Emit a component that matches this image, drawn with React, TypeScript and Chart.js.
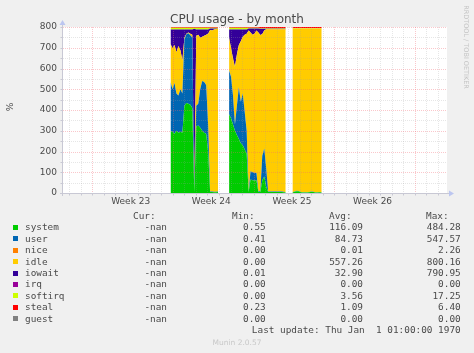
import React, { useEffect, useRef } from "react";
import { Chart, registerables } from "chart.js";

Chart.register(...registerables);

const TITLE = "CPU usage - by month";
const Y_AXIS_LABEL = "%";
const SIDE_TEXT = "RRDTOOL / TOBI OETIKER";
const LAST_UPDATE = "Last update: Thu Jan  1 01:00:00 1970";
const VERSION_TEXT = "Munin 2.0.57";

const seriesNames = ["system", "user", "nice", "idle", "iowait", "irq", "softirq", "steal", "guest"];
const seriesColors = ["#00CC00", "#0066B3", "#FF8000", "#FFCC00", "#330099", "#990099", "#CCFF00", "#FF0000", "#808080"];
const legendHeaders = ["Cur:", "Min:", "Avg:", "Max:"];
const curValues = ["-nan", "-nan", "-nan", "-nan", "-nan", "-nan", "-nan", "-nan", "-nan"];
const minValues = ["0.55", "0.41", "0.00", "0.00", "0.01", "0.00", "0.00", "0.23", "0.00"];
const avgValues = ["116.09", "84.73", "0.01", "557.26", "32.90", "0.00", "3.56", "1.09", "0.00"];
const maxValues = ["484.28", "547.57", "2.26", "800.16", "790.95", "0.00", "17.25", "6.40", "0.00"];

// y axis
const yTickValues = [0, 100, 200, 300, 400, 500, 600, 700, 800];
const yMinorValues = [50, 150, 250, 350, 450, 550, 650, 750];
const Y_MAX = 800;

// x axis (hours since start of the month window)
const X_MAX_HOURS = 800;
const weekLabels = ["Week 23", "Week 24", "Week 25", "Week 26"];
const weekLabelHours = [141, 309, 477, 645];
const weekStartHours = [61, 229, 397, 565, 733];

// data blocks (hours), samples are spread evenly inside each block; null = gap
const blockStartHours = [224, 346, 478];
const blockEndHours = [323, 464, 539];

const system = [
  300, 295, 285, 300, 290, 295, 290, 420, 434, 430, 425, 410, 5, 320, 325, 315, 300, 290, 285, 200, 5, 5, 4, 4, 5,
  null,
  380, 360, 330, 300, 280, 260, 240, 230, 210, 190, 5, 65, 62, 60, 62, 5, 5, 60, 80, 30, 5, 5, 5, 5, 5, 5, 5, 5, 4, 3,
  null,
  3, 6, 9, 8, 4, 3, 3, 3, 4, 6, 5, 3, 3, 4, 3,
];
const user = [
  235, 205, 245, 180, 180, 205, 190, 320, 331, 340, 335, 340, 3, 100, 105, 185, 240, 245, 235, 130, 2, 2, 2, 2, 2,
  null,
  210, 200, 140, 30, 140, 250, 200, 250, 180, 110, 3, 40, 38, 38, 34, 3, 3, 120, 135, 90, 2, 2, 2, 2, 2, 2, 2, 2, 2, 1,
  null,
  1, 1, 2, 2, 1, 1, 1, 1, 1, 1, 1, 1, 1, 1, 1,
];
const nice = [
  0, 0, 0, 0, 0, 0, 0, 0, 0, 0, 0, 0, 0, 0, 0, 0, 0, 0, 0, 0, 0, 0, 0, 0, 0,
  null,
  0, 0, 0, 0, 0, 0, 0, 0, 0, 0, 0, 0, 0, 0, 0, 0, 0, 0, 0, 0, 0, 0, 0, 0, 0, 0, 0, 0, 0, 0,
  null,
  0, 0, 0, 0, 0, 0, 0, 0, 0, 0, 0, 0, 0, 0, 0,
];
const idle = [
  183, 198, 183, 198, 238, 188, 158, 8, 3, 3, 8, 13, 3, 338, 333, 248, 213, 223, 243, 438, 778, 776, 782, 784, 784,
  null,
  158, 138, 178, 278, 248, 203, 291, 273, 373, 468, 775, 668, 663, 670, 687, 765, 753, 586, 568, 669, 782, 782, 782, 782, 782, 782, 782, 782, 783, 785,
  null,
  787, 784, 780, 781, 786, 787, 787, 787, 786, 784, 785, 787, 787, 786, 787,
];
const iowait = [
  70, 90, 75, 110, 80, 100, 150, 40, 20, 15, 20, 25, 780, 30, 25, 40, 35, 30, 25, 20, 8, 10, 5, 3, 2,
  null,
  40, 90, 140, 180, 120, 75, 57, 35, 25, 20, 10, 20, 30, 25, 10, 20, 30, 25, 8, 2, 2, 2, 2, 2, 2, 2, 2, 2, 2, 2,
  null,
  1, 1, 1, 1, 1, 1, 1, 1, 1, 1, 1, 1, 1, 1, 1,
];
const irq = [
  0, 0, 0, 0, 0, 0, 0, 0, 0, 0, 0, 0, 0, 0, 0, 0, 0, 0, 0, 0, 0, 0, 0, 0, 0,
  null,
  0, 0, 0, 0, 0, 0, 0, 0, 0, 0, 0, 0, 0, 0, 0, 0, 0, 0, 0, 0, 0, 0, 0, 0, 0, 0, 0, 0, 0, 0,
  null,
  0, 0, 0, 0, 0, 0, 0, 0, 0, 0, 0, 0, 0, 0, 0,
];
const softirq = [
  8, 8, 8, 8, 8, 8, 8, 8, 8, 8, 8, 8, 5, 8, 8, 8, 8, 8, 8, 8, 3, 3, 3, 3, 3,
  null,
  8, 8, 8, 8, 8, 8, 8, 8, 8, 8, 3, 3, 3, 3, 3, 3, 3, 3, 3, 3, 3, 3, 3, 3, 3, 3, 3, 3, 3, 3,
  null,
  2, 2, 2, 2, 2, 2, 2, 2, 2, 2, 2, 2, 2, 2, 2,
];
const steal = [
  4, 4, 4, 4, 4, 4, 4, 4, 4, 4, 4, 4, 4, 4, 4, 4, 4, 4, 4, 4, 4, 4, 4, 4, 4,
  null,
  4, 4, 4, 4, 4, 4, 4, 4, 4, 4, 4, 4, 4, 4, 4, 4, 6, 6, 6, 6, 6, 6, 6, 6, 6, 6, 6, 6, 6, 6,
  null,
  6, 6, 6, 6, 6, 6, 6, 6, 6, 6, 6, 6, 6, 6, 6,
];
const guest = [
  0, 0, 0, 0, 0, 0, 0, 0, 0, 0, 0, 0, 0, 0, 0, 0, 0, 0, 0, 0, 0, 0, 0, 0, 0,
  null,
  0, 0, 0, 0, 0, 0, 0, 0, 0, 0, 0, 0, 0, 0, 0, 0, 0, 0, 0, 0, 0, 0, 0, 0, 0, 0, 0, 0, 0, 0,
  null,
  0, 0, 0, 0, 0, 0, 0, 0, 0, 0, 0, 0, 0, 0, 0,
];

const seriesData = [system, user, nice, idle, iowait, irq, softirq, steal, guest];

function sampleHours(series: (number | null)[]): number[] {
  const segs: number[][] = [];
  let cur: number[] = [];
  series.forEach((v, i) => {
    if (v === null) {
      segs.push(cur);
      cur = [];
    } else cur.push(i);
  });
  segs.push(cur);
  const hours: number[] = new Array(series.length).fill(0);
  segs.forEach((idxs, b) => {
    const n = idxs.length;
    idxs.forEach((idx, k) => {
      hours[idx] = blockStartHours[b] + ((blockEndHours[b] - blockStartHours[b]) * k) / (n - 1);
    });
  });
  series.forEach((v, i) => {
    if (v === null) hours[i] = (hours[i - 1] + hours[i + 1]) / 2;
  });
  return hours;
}

const FONT_SANS = "'DejaVu Sans', sans-serif";
const FONT_MONO = "'DejaVu Sans Mono', monospace";
const TEXT_COLOR = "#4a4a4a";
const AXIS_COLOR = "#c8c8d4";
const ARROW_COLOR = "#bcc6f0";

const muninPlugin = {
  id: "munin",
  beforeDraw(chart: any) {
    const { ctx, chartArea: a, width, height } = chart;
    ctx.save();
    ctx.fillStyle = "#F0F0F0";
    ctx.fillRect(0, 0, width, height);
    ctx.fillStyle = "#FFFFFF";
    ctx.fillRect(a.left, a.top, a.right - a.left, a.bottom - a.top);
    ctx.restore();
  },
  afterDatasetsDraw(chart: any) {
    const { ctx, chartArea: a } = chart;
    const xs = chart.scales.x;
    const ys = chart.scales.y;
    ctx.save();
    ctx.lineWidth = 1;
    ctx.setLineDash([1, 1]);
    // minor grid
    ctx.strokeStyle = "rgba(160,160,160,0.26)";
    ctx.beginPath();
    for (const v of yMinorValues) {
      const py = Math.round(ys.getPixelForValue(v)) + 0.5;
      ctx.moveTo(a.left, py);
      ctx.lineTo(a.right, py);
    }
    for (let h = weekStartHours[0] - 48; h < X_MAX_HOURS; h += 24) {
      if (weekStartHours.includes(h)) continue;
      const px = Math.round(xs.getPixelForValue(h)) + 0.5;
      ctx.moveTo(px, a.top);
      ctx.lineTo(px, a.bottom);
    }
    ctx.stroke();
    // major grid
    ctx.strokeStyle = "rgba(240,100,110,0.36)";
    ctx.beginPath();
    for (const v of yTickValues) {
      if (v === 0) continue;
      const py = Math.round(ys.getPixelForValue(v)) + 0.5;
      ctx.moveTo(a.left, py);
      ctx.lineTo(a.right, py);
    }
    for (const h of weekStartHours) {
      const px = Math.round(xs.getPixelForValue(h)) + 0.5;
      ctx.moveTo(px, a.top);
      ctx.lineTo(px, a.bottom);
    }
    ctx.stroke();
    ctx.setLineDash([]);
    // axes
    ctx.strokeStyle = AXIS_COLOR;
    ctx.beginPath();
    const by = Math.round(a.bottom) + 0.5;
    const lx = Math.round(a.left) - 0.5;
    ctx.moveTo(a.left - 3, by);
    ctx.lineTo(a.right + 3, by);
    ctx.moveTo(lx, a.bottom + 3);
    ctx.lineTo(lx, a.top - 3);
    for (let h = weekStartHours[0] - 48; h < X_MAX_HOURS; h += 24) {
      const px = Math.round(xs.getPixelForValue(h)) + 0.5;
      ctx.moveTo(px, by);
      ctx.lineTo(px, by + 2);
    }
    for (const v of yTickValues.concat(yMinorValues)) {
      const py = Math.round(ys.getPixelForValue(v)) + 0.5;
      ctx.moveTo(lx, py);
      ctx.lineTo(lx - 2, py);
    }
    ctx.stroke();
    ctx.fillStyle = ARROW_COLOR;
    ctx.beginPath();
    ctx.moveTo(a.right + 2, by - 3);
    ctx.lineTo(a.right + 7, by);
    ctx.lineTo(a.right + 2, by + 3);
    ctx.closePath();
    ctx.fill();
    ctx.beginPath();
    ctx.moveTo(lx - 3, a.top - 2);
    ctx.lineTo(lx, a.top - 7);
    ctx.lineTo(lx + 3, a.top - 2);
    ctx.closePath();
    ctx.fill();
    ctx.restore();
  },
  afterDraw(chart: any) {
    const { ctx } = chart;
    ctx.save();
    // title
    ctx.fillStyle = TEXT_COLOR;
    ctx.font = `12px ${FONT_SANS}`;
    ctx.textAlign = "center";
    ctx.textBaseline = "alphabetic";
    ctx.fillText(TITLE, 237, 22.5);
    // y axis label
    ctx.save();
    ctx.translate(11, 107);
    ctx.rotate(-Math.PI / 2);
    ctx.font = `9px ${FONT_SANS}`;
    ctx.textBaseline = "middle";
    ctx.fillText(Y_AXIS_LABEL, 0, 0);
    ctx.restore();
    // side text
    ctx.save();
    ctx.translate(466, 47);
    ctx.rotate(Math.PI / 2);
    ctx.font = `6.5px ${FONT_SANS}`;
    ctx.fillStyle = "#c4c4c4";
    ctx.textBaseline = "middle";
    ctx.fillText(SIDE_TEXT, 0, 0);
    ctx.restore();
    // legend
    ctx.font = `9.4px ${FONT_MONO}`;
    ctx.textBaseline = "middle";
    ctx.fillStyle = TEXT_COLOR;
    const headerX = [133, 232, 329, 426];
    ctx.textAlign = "left";
    legendHeaders.forEach((h, i) => ctx.fillText(h, headerX[i], 216.7));
    const rowY0 = 228;
    const rowStep = 11.41;
    const colRight = [167, 265.7, 363, 460.7];
    seriesNames.forEach((name, i) => {
      const y = rowY0 + rowStep * i;
      ctx.fillStyle = seriesColors[i];
      ctx.fillRect(13, Math.round(y) - 3, 5, 5);
      ctx.fillStyle = TEXT_COLOR;
      ctx.textAlign = "left";
      ctx.fillText(name, 25, y);
      ctx.textAlign = "right";
      ctx.fillText(curValues[i], colRight[0], y);
      ctx.fillText(minValues[i], colRight[1], y);
      ctx.fillText(avgValues[i], colRight[2], y);
      ctx.fillText(maxValues[i], colRight[3], y);
    });
    ctx.textAlign = "right";
    ctx.fillText(LAST_UPDATE, 460.7, rowY0 + rowStep * 9);
    ctx.textAlign = "center";
    ctx.font = `7.5px ${FONT_SANS}`;
    ctx.fillStyle = "#c8c8c8";
    ctx.fillText(VERSION_TEXT, 237, 343.3);
    ctx.restore();
  },
};

export default function App() {
  const canvasRef = useRef<HTMLCanvasElement | null>(null);

  useEffect(() => {
    document.body.style.margin = "0";
    const canvas = canvasRef.current;
    if (!canvas) return;
    const hours = sampleHours(system);
    const datasets = seriesData.map((series, i) => ({
      label: seriesNames[i],
      data: series.map((v, k) => ({ x: hours[k], y: v })),
      backgroundColor: seriesColors[i],
      borderColor: "rgba(0,0,0,0)",
      borderWidth: 0,
      pointRadius: 0,
      tension: 0,
      fill: i === 0 ? "origin" : "-1",
      spanGaps: false,
    }));
    const chart = new Chart(canvas, {
      type: "line",
      data: { datasets },
      plugins: [muninPlugin],
      options: {
        responsive: false,
        animation: false,
        events: [],
        devicePixelRatio: 1,
        layout: { padding: { left: 0, top: 27, right: 27, bottom: 0 } },
        plugins: { legend: { display: false }, tooltip: { enabled: false }, title: { display: false } },
        scales: {
          x: {
            type: "linear",
            min: 0,
            max: X_MAX_HOURS,
            grid: { display: false, drawTicks: false },
            border: { display: false },
            afterFit(s: any) {
              s.height = 160;
            },
            afterBuildTicks(s: any) {
              s.ticks = weekLabelHours.map((v) => ({ value: v }));
            },
            ticks: {
              autoSkip: false,
              maxRotation: 0,
              padding: 3,
              color: TEXT_COLOR,
              font: { family: FONT_SANS, size: 9 },
              callback: (_v: any, idx: number) => weekLabels[idx],
            },
          },
          y: {
            type: "linear",
            stacked: true,
            min: 0,
            max: Y_MAX,
            grid: { display: false, drawTicks: false },
            border: { display: false },
            afterFit(s: any) {
              s.width = 63;
            },
            afterBuildTicks(s: any) {
              s.ticks = yTickValues.map((v) => ({ value: v }));
            },
            ticks: {
              padding: 6,
              color: TEXT_COLOR,
              font: { family: FONT_SANS, size: 9 },
              callback: (v: any) => String(v),
            },
          },
        },
      },
    } as any);
    return () => chart.destroy();
  }, []);

  return (
    <div style={{ width: 474, height: 353 }}>
      <canvas ref={canvasRef} width={474} height={353} style={{ display: "block", width: 474, height: 353 }} />
    </div>
  );
}
